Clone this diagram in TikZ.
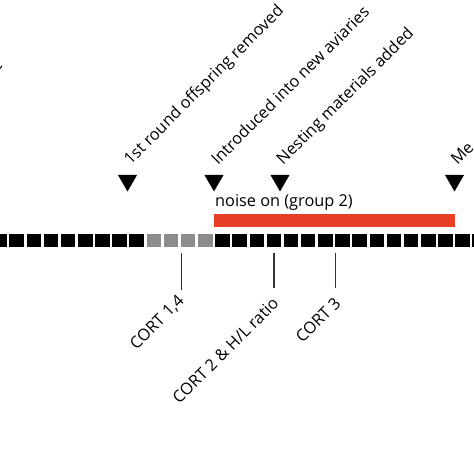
\documentclass[tikz,border=0pt]{standalone}
\usepackage{fontspec}
\setmainfont{Open Sans}
\usetikzlibrary{shapes.geometric, positioning}
\definecolor{noisered}{RGB}{232,64,38}
\definecolor{cortgray}{RGB}{140,140,140}
\definecolor{tickgray}{RGB}{50,50,50}

\begin{document}
\begin{tikzpicture}[x=1pt, y=1pt,
    day/.style={rectangle, fill=black, minimum width=14.5pt, minimum height=13.5pt,
                inner sep=0pt, anchor=south west},
    event/.style={regular polygon, regular polygon sides=3, shape border rotate=180,
                  fill=black, minimum size=22pt, inner sep=0pt},
    eventlbl/.style={rotate=45, anchor=base west, inner sep=0pt,
                     font=\fontsize{16.3}{19}\selectfont},
    samplelbl/.style={rotate=45, anchor=north east, inner sep=0pt,
                      font=\fontsize{16.3}{19}\selectfont}]

    \clip (0,0) rectangle (474,474);

    % Days
    \foreach \k in {-13,...,-5,0,1,...,15} {
        \node[day] (d\k) at (215+17.15*\k, 226.5) {};
    }
    \foreach \k in {-4,...,-1} {
        \node[day, fill=cortgray] (d\k) at (215+17.15*\k, 226.5) {};
    }

    % Events
    \node[event] (t1) at (127.5, 293.5) {};
    \node[event] (t2) at (214, 293.5) {};
    \node[event] (t3) at (280, 293.5) {};
    \node[event] (t4) at (454.5, 293.5) {};

    \node[eventlbl] (l0) at (-3, 401) {e};
    \node[eventlbl] (l1) at ([shift={(3,9)}]t1.north) {1st round offspring removed};
    \node[eventlbl] (l2) at ([shift={(4,9)}]t2.north) {Introduced into new aviaries};
    \node[eventlbl] (l3) at ([shift={(3,9)}]t3.north) {Nesting materials added};
    \node[eventlbl] (l4) at ([shift={(3,9)}]t4.north) {Me};

    % Noise period
    \node[fill=noisered, minimum width=241pt, minimum height=13pt, inner sep=0pt,
          anchor=south west] (bar) at (214, 247) {};
    \node[anchor=base west, inner sep=0pt, font=\fontsize{16.3}{19}\selectfont]
          (noise) at ([shift={(1,7)}]bar.north west) {noise on (group 2)};

    % Sampling
    \coordinate (s1) at (181.7, 221);
    \coordinate (s2) at (274, 221);
    \coordinate (s3) at (335.3, 221);
    \coordinate (s1b) at (181.7, 184);
    \coordinate (s2b) at (274, 186);
    \coordinate (s3b) at (335.3, 186);
    \draw[tickgray, line width=1.3pt] (s1) -- (s1b);
    \draw[tickgray, line width=1.3pt] (s2) -- (s2b);
    \draw[tickgray, line width=1.3pt] (s3) -- (s3b);

    \node[samplelbl] at ([shift={(-5,-3)}]s1b) {CORT 1,4};
    \node[samplelbl] at ([shift={(-3,-8)}]s2b) {CORT 2 \& H/L ratio};
    \node[samplelbl] at ([shift={(-2,-8)}]s3b) {CORT 3};

\end{tikzpicture}
\end{document}
